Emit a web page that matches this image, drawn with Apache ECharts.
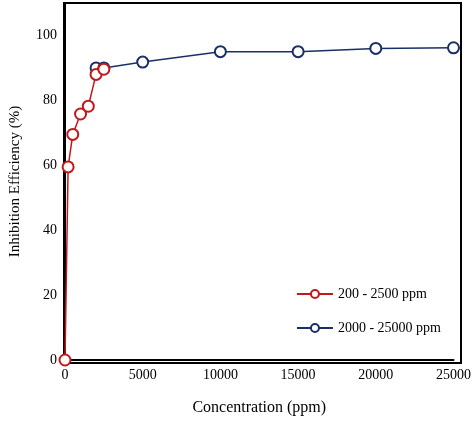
<!DOCTYPE html>
<html><head><meta charset="utf-8">
<script src="https://cdn.jsdelivr.net/npm/echarts@6/dist/echarts.min.js"></script>
<style>html,body{margin:0;background:#fff}#c{width:474px;height:421px}</style>
</head><body><div id="c"></div>
<script>
// data
const lowConc = [0, 200, 500, 1000, 1500, 2000, 2500];
const lowEff = [0, 59.5, 69.5, 75.8, 78.2, 88, 89.6];
const highConc = [2000, 2500, 5000, 10000, 15000, 20000, 25000];
const highEff = [90, 90, 91.8, 95, 95, 96, 96.2];

const font = 'Liberation Serif';
const chart = echarts.init(document.getElementById('c'));

const pts = (xs, ys) => xs.map((x, i) => [x, ys[i]]);

chart.setOption({
    animation: false,
    grid: { left: 64, right: 13, top: 3, bottom: 58 },
    xAxis: {
        type: 'value', min: 0, max: 25000, interval: 5000,
        name: 'Concentration (ppm)', nameLocation: 'middle', nameGap: 40,
        nameTextStyle: { fontFamily: font, fontSize: 16, color: '#000' },
        axisLine: { lineStyle: { color: '#000', width: 2 } },
        axisTick: { show: false },
        splitLine: { show: false },
        axisLabel: { fontFamily: font, fontSize: 14, color: '#000', formatter: v => String(v) }
    },
    yAxis: {
        type: 'value', min: 0, max: 110, interval: 20,
        name: 'Inhibition Efficiency (%)', nameLocation: 'middle', nameGap: 42,
        nameTextStyle: { fontFamily: font, fontSize: 15, color: '#000' },
        axisLine: { lineStyle: { color: '#000', width: 2 } },
        axisTick: { show: false },
        splitLine: { show: false },
        axisLabel: {
            fontFamily: font, fontSize: 14, color: '#000',
            formatter: v => (v > 100 ? '' : String(v))
        }
    },
    legend: {
        right: 28, top: 282, orient: 'vertical', itemGap: 20,
        itemWidth: 36, itemHeight: 10,
        textStyle: { fontFamily: font, fontSize: 14, color: '#000' },
        data: ['200 - 2500 ppm', '2000 - 25000 ppm']
    },
    series: [
        {
            name: '2000 - 25000 ppm', type: 'line', data: pts(highConc, highEff),
            symbol: 'emptyCircle', symbolSize: 11,
            lineStyle: { color: '#1a2f66', width: 1.5 },
            itemStyle: { color: '#1a2f66', borderWidth: 1.8 }
        },
        {
            name: '200 - 2500 ppm', type: 'line', data: pts(lowConc, lowEff),
            symbol: 'emptyCircle', symbolSize: 11,
            lineStyle: { color: '#c0191c', width: 1.5 },
            itemStyle: { color: '#c0191c', borderWidth: 1.8 }
        }
    ],
    graphic: [{
        type: 'rect', z: -1,
        shape: { x: 64, y: 3, width: 397, height: 360 },
        style: { fill: 'none', stroke: '#000', lineWidth: 2 }
    }]
});
</script></body></html>
